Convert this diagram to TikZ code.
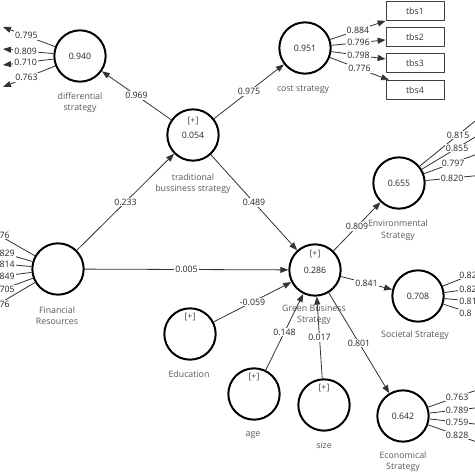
\documentclass[tikz,border=0pt]{standalone}
\usepackage{fontspec}
\setmainfont{Open Sans}
\usetikzlibrary{arrows.meta,calc}

\tikzset{
  lv/.style={circle, draw=black, line width=1.5pt, minimum size=38.5pt, inner sep=0pt, font=\fontsize{6.6}{8}\selectfont, text=black!85},
  mv/.style={rectangle, draw=black!75, line width=0.6pt, minimum width=43.5pt, minimum height=14.25pt, inner sep=0pt, font=\fontsize{6.6}{8}\selectfont, text=black!80},
  rel/.style={draw=black!80, line width=0.6pt, -{Triangle[length=6pt,width=4.5pt]}},
  ld/.style={draw=black!80, line width=0.6pt},
  coef/.style={fill=white, inner sep=0.8pt, font=\fontsize{6.6}{8}\selectfont, text=black!85},
  lvname/.style={align=center, inner sep=0pt, font=\fontsize{6.6}{8.6}\selectfont, text=black!65},
  plus/.style={inner sep=0pt, font=\fontsize{6.6}{8}\selectfont, text=black!75},
}

\begin{document}
\begin{tikzpicture}[x=0.75pt,y=0.75pt,yscale=-1]
\useasboundingbox (0,0) rectangle (474,474);

% Latent variables
\node[lv] (dif) at (80,56) {0.940};
\node[lv] (cost) at (305,48) {0.951};
\node[lv] (trad) at (193,135) {0.054};
\node[lv] (fin) at (58,269) {};
\node[lv] (green) at (315,270) {0.286};
\node[lv] (edu) at (190,334) {};
\node[lv] (age) at (254,394) {};
\node[lv] (size) at (324,405) {};
\node[lv] (env) at (399,183) {0.655};
\node[lv] (soc) at (418,296) {0.708};
\node[lv] (eco) at (403,416) {0.642};

% [+] marks
\node[plus] (tradp) at ($(trad)+(0,-14)$) {[+]};
\node[plus] (greenp) at ($(green)+(0,-16)$) {[+]};
\node[plus] (edup) at ($(edu)+(0,-17)$) {[+]};
\node[plus] (agep) at ($(age)+(0,-17)$) {[+]};
\node[plus] (sizep) at ($(size)+(0,-17)$) {[+]};

% Names
\node[lvname] (difn) at (80,102.5) {differential\\strategy};
\node[lvname] (costn) at (303,90) {cost strategy};
\node[lvname] (tradn) at (193,183.5) {traditional\\bussiness strategy};
\node[lvname] (finn) at (57,315.5) {Financial\\Resources};
\node[lvname] (greenn) at (314,315) {Green Business\\Strategy};
\node[lvname] (edun) at (189,374) {Education};
\node[lvname] (agen) at (253,435) {age};
\node[lvname] (sizen) at (324,445) {size};
\node[lvname] (envn) at (398,230) {Environmental\\Strategy};
\node[lvname] (socn) at (415,335) {Societal Strategy};
\node[lvname] (econ) at (403,461.5) {Economical\\Strategy};

% Indicators of cost strategy
\node[mv] (tbs1) at (415,11) {tbs1};
\node[mv] (tbs2) at (415,37) {tbs2};
\node[mv] (tbs3) at (415,63) {tbs3};
\node[mv] (tbs4) at (415,90) {tbs4};

% Free ends of the loadings
\coordinate (d1) at (3,27);
\coordinate (d2) at (3,49);
\coordinate (d3) at (3,65);
\coordinate (d4) at (3,87);
\coordinate (e1) at (496.4,103.7);
\coordinate (e2) at (492.3,126.7);
\coordinate (e3) at (482.2,152.2);
\coordinate (e4) at (478.6,175.5);
\coordinate (s1) at (498.4,263.9);
\coordinate (s2) at (496.7,285.5);
\coordinate (s3) at (496.6,303.5);
\coordinate (s4) at (497.8,321.8);
\coordinate (ec1) at (486,386.8);
\coordinate (ec2) at (484.7,406.9);
\coordinate (ec3) at (484.7,425.1);
\coordinate (ec4) at (486,445.2);
\coordinate (f1) at (-38,214.1);
\coordinate (f2) at (-25.6,244.5);
\coordinate (f3) at (-24.6,261.4);
\coordinate (f4) at (-24.7,279.6);
\coordinate (f5) at (-26.1,299.9);
\coordinate (f6) at (-38.2,325.6);

% Inner model
\draw[rel] (trad) -- node[coef] {0.969} (dif);
\draw[rel] (trad) -- node[coef] {0.975} (cost);
\draw[rel] (fin) -- node[coef] {0.233} (trad);
\draw[rel] (trad) -- node[coef] {0.489} (green);
\draw[rel] (fin) -- node[coef] {0.005} (green);
\draw[rel] (edu) -- node[coef] {-0.059} (green);
\draw[rel] (age) -- node[coef] {0.148} (green);
\draw[rel] (size) -- node[coef] {0.017} (green);
\draw[rel] (green) -- node[coef] {0.809} (env);
\draw[rel] (green) -- node[coef] {0.841} (soc);
\draw[rel] (green) -- node[coef] {0.801} (eco);

% Outer model
\draw[rel] (dif) -- node[coef,pos=.55] {0.795} (d1);
\draw[rel] (dif) -- node[coef,pos=.55] {0.809} (d2);
\draw[rel] (dif) -- node[coef,pos=.55] {0.710} (d3);
\draw[rel] (dif) -- node[coef,pos=.55] {0.763} (d4);
\draw[rel] (cost) -- node[coef] {0.884} (tbs1);
\draw[rel] (cost) -- node[coef] {0.796} (tbs2);
\draw[rel] (cost) -- node[coef] {0.798} (tbs3);
\draw[rel] (cost) -- node[coef] {0.776} (tbs4);
\draw[ld] (env) -- node[coef] {0.815} (e1);
\draw[ld] (env) -- node[coef] {0.855} (e2);
\draw[ld] (env) -- node[coef] {0.797} (e3);
\draw[ld] (env) -- node[coef] {0.820} (e4);
\draw[ld] (soc) -- node[coef] {0.82\phantom{0}} (s1);
\draw[ld] (soc) -- node[coef] {0.82\phantom{0}} (s2);
\draw[ld] (soc) -- node[coef] {0.81\phantom{0}} (s3);
\draw[ld] (soc) -- node[coef] {0.8\phantom{00}} (s4);
\draw[ld] (eco) -- node[coef] {0.763} (ec1);
\draw[ld] (eco) -- node[coef] {0.789} (ec2);
\draw[ld] (eco) -- node[coef] {0.759} (ec3);
\draw[ld] (eco) -- node[coef] {0.828} (ec4);
\draw[ld] (fin) -- node[coef] {\phantom{0.0}76} (f1);
\draw[ld] (fin) -- node[coef] {\phantom{0.}829} (f2);
\draw[ld] (fin) -- node[coef] {\phantom{0.}814} (f3);
\draw[ld] (fin) -- node[coef] {\phantom{0.}849} (f4);
\draw[ld] (fin) -- node[coef] {\phantom{0.}705} (f5);
\draw[ld] (fin) -- node[coef] {\phantom{0.0}76} (f6);
\end{tikzpicture}
\end{document}
